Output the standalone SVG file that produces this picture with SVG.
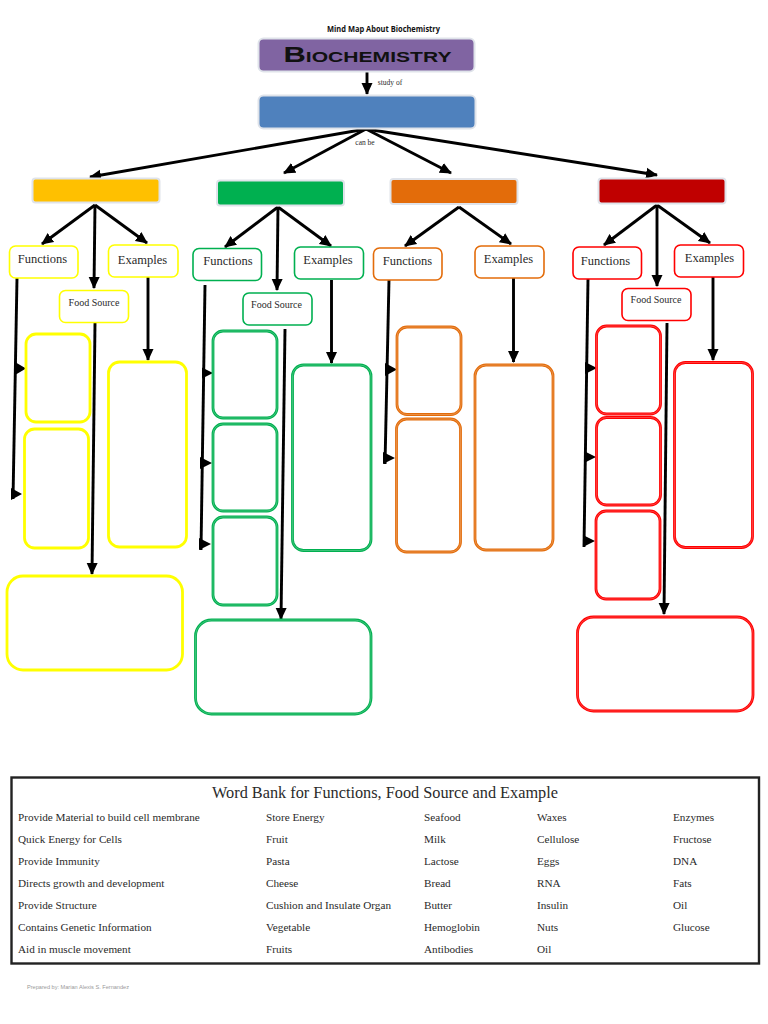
<svg xmlns="http://www.w3.org/2000/svg" width="768" height="1024" viewBox="0 0 768 1024">
<style>
text{font-family:"Liberation Serif","Times New Roman",serif;fill:#2a2a2a}
.t{font-size:12.5px;text-anchor:middle}
.fs{font-size:10px;text-anchor:middle}
.w{font-size:11.200px}
.h{fill:#fff;stroke-width:1.600}
.b{fill:#fff;stroke-width:2.800}
.i{fill:none;stroke:#fff;stroke-width:.6;stroke-opacity:.4}
.y{stroke:#ffff00}.g{stroke:#00b050}.o{stroke:#e36c0a}.r{stroke:#ff0000}
.top{stroke:#dfe3ea;stroke-width:2}
#connectors line{stroke:#000;stroke-width:2.900;marker-end:url(#a)}
</style>
<defs>
<marker id="a" markerUnits="userSpaceOnUse" markerWidth="13" markerHeight="12" refX="11" refY="6" orient="auto"><path d="M0 .5L12 6L0 11.500z" fill="#000"/></marker>
</defs>
<rect width="768" height="1024" fill="#fff"/>
<text x="383.500" y="31.500" text-anchor="middle" style="font-family:'Open Sans','Liberation Sans',sans-serif;font-size:8px;font-weight:bold;fill:#111" textLength="113" lengthAdjust="spacingAndGlyphs">Mind Map About Biochemistry</text>
<g id="connectors">
<line x1="367" y1="72" x2="367" y2="94"/>
<line x1="366" y1="129" x2="90" y2="177"/>
<line x1="366" y1="129" x2="284" y2="173"/>
<line x1="366" y1="129" x2="451" y2="173"/>
<line x1="366" y1="129" x2="657" y2="175"/>
<line x1="95" y1="205" x2="42" y2="244"/>
<line x1="95" y1="205" x2="94" y2="288"/>
<line x1="95" y1="205" x2="147" y2="243"/>
<line x1="278" y1="207" x2="225" y2="247"/>
<line x1="278" y1="207" x2="277" y2="290"/>
<line x1="278" y1="207" x2="331" y2="246"/>
<line x1="459" y1="207" x2="405" y2="246"/>
<line x1="459" y1="207" x2="511" y2="244"/>
<line x1="657" y1="205" x2="604" y2="245"/>
<line x1="657" y1="205" x2="657" y2="286"/>
<line x1="657" y1="205" x2="710" y2="243"/>
<line x1="148" y1="277" x2="148" y2="360"/>
<line x1="331.500" y1="280" x2="331.500" y2="363"/>
<line x1="513.500" y1="278" x2="513.500" y2="362"/>
<line x1="713" y1="277" x2="713" y2="360"/>
<line x1="17" y1="278" x2="13" y2="499" style="marker-end:none"/>
<line x1="95" y1="323" x2="92" y2="574"/>
<line x1="205" y1="285" x2="201" y2="550" style="marker-end:none"/>
<line x1="285" y1="329" x2="281" y2="619"/>
<line x1="389" y1="280" x2="385" y2="464" style="marker-end:none"/>
<line x1="588" y1="279" x2="584" y2="547" style="marker-end:none"/>
<line x1="667" y1="323" x2="664" y2="614"/>
<path d="M15 362l11 6.500-11 6.500zM11 488l11 6-11 6zM202 367.500l11 5.500-11 5.500zM200 457l12 6-12 6zM199 538l12 6-12 6zM385 363l12 6.500-12 6.500zM383 452l12 6-12 6zM585 362l12 6-12 6zM584 451l12 6-12 6zM583 535l12 6-12 6z" fill="#000"/>
</g>
<g id="biochemistry"><rect x="258.500" y="38.500" width="216" height="33" rx="5" fill="#8064a2" class="top"/><text x="367.500" y="61.500" text-anchor="middle" style="font-family:'Liberation Sans',sans-serif;font-size:22px;font-weight:bold;font-variant:small-caps;fill:#111" textLength="168" lengthAdjust="spacingAndGlyphs">Biochemistry</text></g>
<text x="390" y="85" class="fs" style="font-size:7.500px">study of</text>
<g id="study"><rect x="258.500" y="95.500" width="217" height="33" rx="5" fill="#4f81bd" class="top"/></g>
<text x="365" y="145" class="fs" style="font-size:7.500px">can be</text>
<g id="cat1"><rect x="32.500" y="178.500" width="127" height="24" rx="3" fill="#ffc000" class="top"/></g>
<g id="cat2"><rect x="217" y="180.500" width="127" height="25" rx="3" fill="#00b050" class="top"/></g>
<g id="cat3"><rect x="390.500" y="179" width="127" height="25" rx="3" fill="#e36c0a" class="top"/></g>
<g id="cat4"><rect x="598.500" y="178.500" width="127" height="25" rx="3" fill="#c00000" class="top"/></g>

<g id="y-func"><rect x="9.500" y="246" width="68.500" height="32" rx="6" class="h y"/><text x="42.500" y="262.500" class="t">Functions</text></g>
<g id="y-ex"><rect x="108.500" y="245" width="69.500" height="32" rx="6" class="h y"/><text x="142.500" y="263.500" class="t">Examples</text></g>
<g id="y-fs"><rect x="59.500" y="290.500" width="69" height="32" rx="6" class="h y"/><text x="94" y="306" class="fs">Food Source</text></g>
<g id="g-func"><rect x="193" y="248.500" width="68.500" height="32" rx="6" class="h g"/><text x="228" y="265" class="t">Functions</text></g>
<g id="g-ex"><rect x="294.500" y="247" width="69" height="32" rx="6" class="h g"/><text x="328" y="264" class="t">Examples</text></g>
<g id="g-fs"><rect x="243" y="293" width="69" height="32" rx="6" class="h g"/><text x="276.500" y="308" class="fs">Food Source</text></g>
<g id="o-func"><rect x="373.500" y="248" width="68.500" height="32" rx="6" class="h o"/><text x="407.500" y="265" class="t">Functions</text></g>
<g id="o-ex"><rect x="475" y="246" width="69" height="32" rx="6" class="h o"/><text x="508.500" y="263" class="t">Examples</text></g>
<g id="r-func"><rect x="573" y="247" width="68.500" height="32" rx="6" class="h r"/><text x="605.500" y="265" class="t">Functions</text></g>
<g id="r-ex"><rect x="674.500" y="245" width="69" height="32" rx="6" class="h r"/><text x="709.500" y="262" class="t">Examples</text></g>
<g id="r-fs"><rect x="622" y="288.500" width="69" height="32" rx="6" class="h r"/><text x="656" y="303" class="fs">Food Source</text></g>

<g id="y-1"><rect x="26" y="334" width="64" height="88" rx="10" class="b y"/></g>
<g id="y-2"><rect x="24.500" y="429" width="64" height="119" rx="10" class="b y"/></g>
<g id="y-3"><rect x="108.500" y="362" width="78" height="185" rx="11" class="b y"/></g>
<g id="y-4"><rect x="7" y="576" width="175.500" height="94" rx="16" class="b y"/></g>
<g id="g-1"><rect x="213" y="331" width="64" height="87" rx="10" class="b g"/><rect x="213" y="331" width="64" height="87" rx="10" class="i"/></g>
<g id="g-2"><rect x="213" y="424" width="64" height="87" rx="10" class="b g"/><rect x="213" y="424" width="64" height="87" rx="10" class="i"/></g>
<g id="g-3"><rect x="213" y="517" width="64" height="88" rx="10" class="b g"/><rect x="213" y="517" width="64" height="88" rx="10" class="i"/></g>
<g id="g-4"><rect x="292.500" y="365" width="78.500" height="185.500" rx="11" class="b g"/><rect x="292.500" y="365" width="78.500" height="185.500" rx="11" class="i"/></g>
<g id="g-5"><rect x="195.500" y="620" width="175.500" height="94" rx="16" class="b g"/><rect x="195.500" y="620" width="175.500" height="94" rx="16" class="i"/></g>
<g id="o-1"><rect x="397" y="327" width="64" height="87.500" rx="10" class="b o"/><rect x="397" y="327" width="64" height="87.500" rx="10" class="i"/></g>
<g id="o-2"><rect x="396.500" y="419" width="64" height="133" rx="10" class="b o"/><rect x="396.500" y="419" width="64" height="133" rx="10" class="i"/></g>
<g id="o-3"><rect x="475" y="365" width="78" height="185" rx="11" class="b o"/><rect x="475" y="365" width="78" height="185" rx="11" class="i"/></g>
<g id="r-1"><rect x="596.500" y="326" width="64" height="88" rx="10" class="b r"/><rect x="596.500" y="326" width="64" height="88" rx="10" class="i"/></g>
<g id="r-2"><rect x="596.500" y="417.500" width="64" height="87.500" rx="10" class="b r"/><rect x="596.500" y="417.500" width="64" height="87.500" rx="10" class="i"/></g>
<g id="r-3"><rect x="596" y="511" width="64" height="88" rx="10" class="b r"/><rect x="596" y="511" width="64" height="88" rx="10" class="i"/></g>
<g id="r-4"><rect x="674.500" y="362.500" width="78" height="185" rx="11" class="b r"/><rect x="674.500" y="362.500" width="78" height="185" rx="11" class="i"/></g>
<g id="r-5"><rect x="577.500" y="617" width="175.500" height="94" rx="16" class="b r"/><rect x="577.500" y="617" width="175.500" height="94" rx="16" class="i"/></g>

<g id="word-bank">
<rect x="11.500" y="777.500" width="747.500" height="186" fill="#fff" stroke="#222" stroke-width="2.400"/>
<text x="385" y="798" text-anchor="middle" style="font-size:16.300px">Word Bank for Functions, Food Source and Example</text>
<g class="w">
<text x="18" y="821">Provide Material to build cell membrane</text><text x="18" y="843">Quick Energy for Cells</text><text x="18" y="865">Provide Immunity</text><text x="18" y="887">Directs growth and development</text><text x="18" y="909">Provide Structure</text><text x="18" y="931">Contains Genetic Information</text><text x="18" y="953">Aid in muscle movement</text>
<text x="266" y="821">Store Energy</text><text x="266" y="843">Fruit</text><text x="266" y="865">Pasta</text><text x="266" y="887">Cheese</text><text x="266" y="909">Cushion and Insulate Organ</text><text x="266" y="931">Vegetable</text><text x="266" y="953">Fruits</text>
<text x="424" y="821">Seafood</text><text x="424" y="843">Milk</text><text x="424" y="865">Lactose</text><text x="424" y="887">Bread</text><text x="424" y="909">Butter</text><text x="424" y="931">Hemoglobin</text><text x="424" y="953">Antibodies</text>
<text x="537" y="821">Waxes</text><text x="537" y="843">Cellulose</text><text x="537" y="865">Eggs</text><text x="537" y="887">RNA</text><text x="537" y="909">Insulin</text><text x="537" y="931">Nuts</text><text x="537" y="953">Oil</text>
<text x="673" y="821">Enzymes</text><text x="673" y="843">Fructose</text><text x="673" y="865">DNA</text><text x="673" y="887">Fats</text><text x="673" y="909">Oil</text><text x="673" y="931">Glucose</text>
</g>
</g>
<text x="27" y="989" style="font-family:'Liberation Sans',Arial,sans-serif;font-size:5.500px;fill:#999" textLength="102" lengthAdjust="spacingAndGlyphs">Prepared by: Marian Alexis S. Fernandez</text>
</svg>
